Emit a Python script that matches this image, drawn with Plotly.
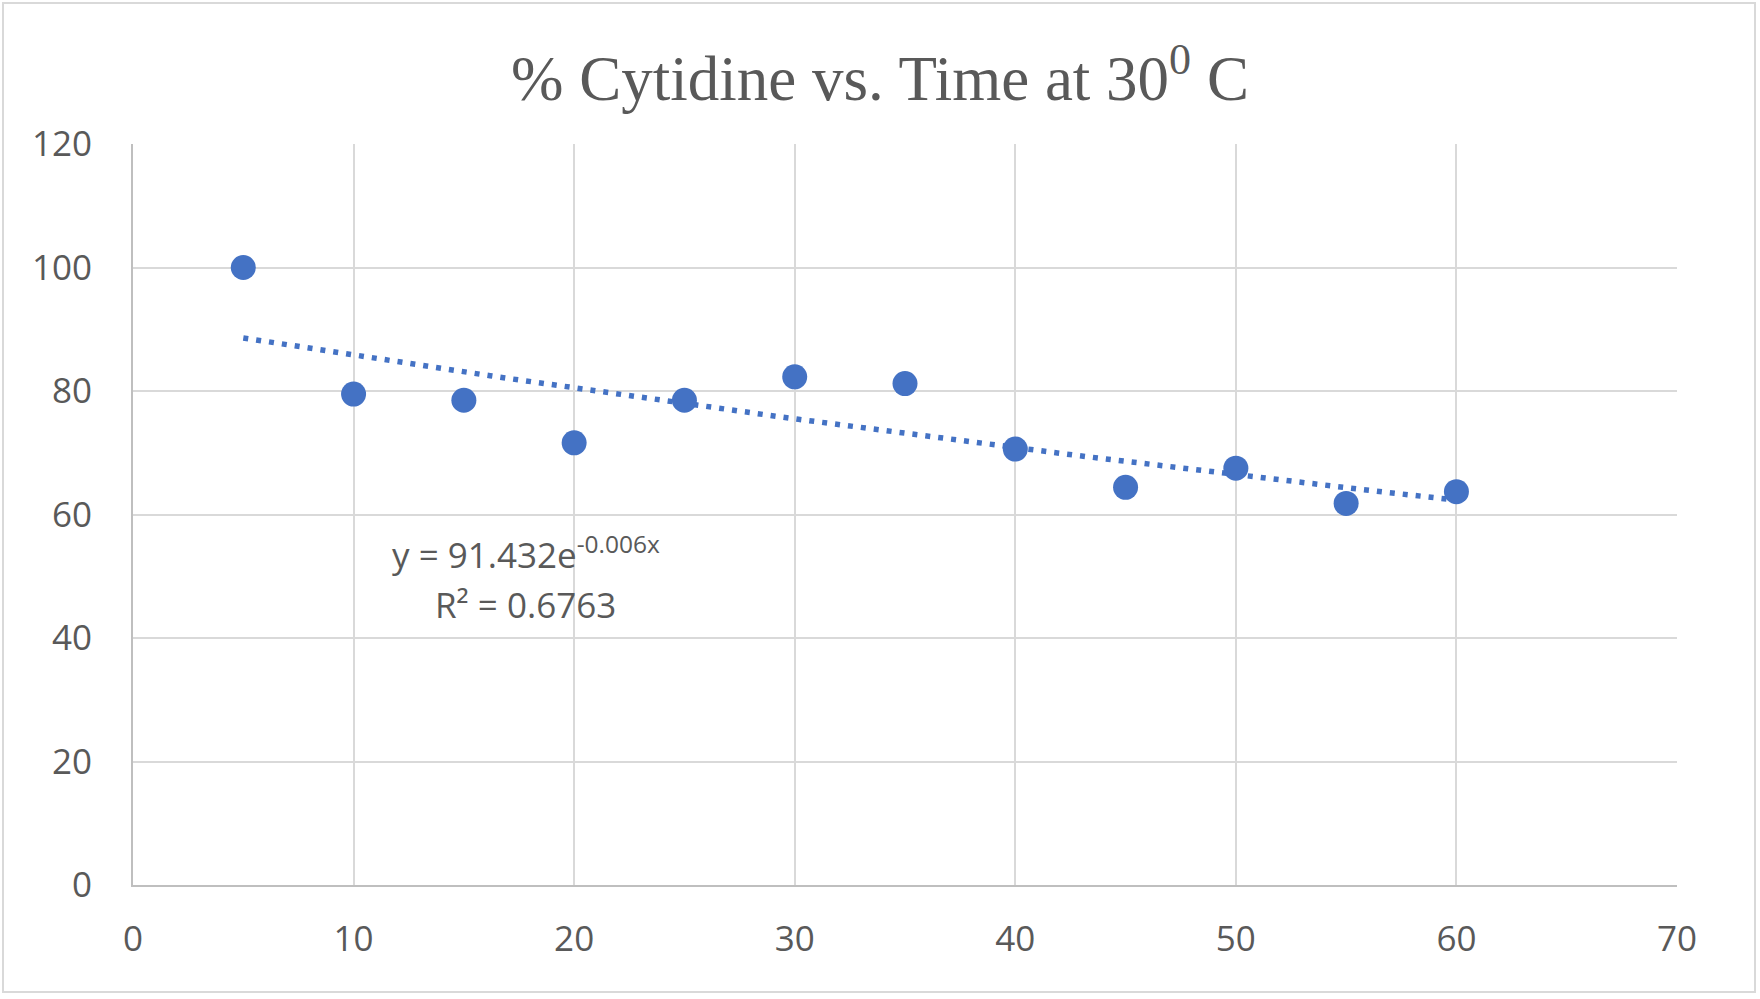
import numpy as np
import plotly.graph_objects as go

# Data
time_min = [5, 10, 15, 20, 25, 30, 35, 40, 45, 50, 55, 60]
pct_cytidine = [100.0, 79.5, 78.5, 71.6, 78.5, 82.3, 81.2, 70.6, 64.4, 67.5, 61.8, 63.7]

x_ticks = [0, 10, 20, 30, 40, 50, 60, 70]
y_ticks = [0, 20, 40, 60, 80, 100, 120]

eq_text = "y = 91.432e<sup>-0.006x</sup>"
r2_text = "R² = 0.6763"
title_text = "% Cytidine vs. Time at 30<sup style='font-size:70%'>0</sup> C"

# exponential trendline fitted to the points (as the spreadsheet does)
b, ln_a = np.polyfit(time_min, np.log(pct_cytidine), 1)
trend_x = np.linspace(min(time_min), max(time_min), 60)
trend_y = np.exp(ln_a) * np.exp(b * trend_x)

W, H = 1760, 999
L, R, T, B = 133, 83, 144, 114
pw, ph = W - L - R, H - T - B

blue = '#4472C4'
grey_txt = '#595959'

fig = go.Figure()

fig.add_trace(go.Scatter(x=trend_x, y=trend_y, mode='lines',
    line=dict(color=blue, width=5.5, dash='5px,8px'),
    hoverinfo='skip', showlegend=False))

fig.add_trace(go.Scatter(x=time_min, y=pct_cytidine, mode='markers',
    marker=dict(color=blue, size=25),
    showlegend=False))

axis_font = dict(family='Open Sans', size=35, color=grey_txt)

fig.update_layout(
    width=W, height=H,
    margin=dict(l=L, r=R, t=T, b=B, autoexpand=False),
    plot_bgcolor='white',
    paper_bgcolor='white',
    title=dict(text=title_text, x=0.5, xref='container', xanchor='center',
               y=1 - 78 / H, yanchor='middle',
               font=dict(family='Liberation Serif', size=63, color=grey_txt)),
    xaxis=dict(range=[0, 70], tickvals=x_ticks, showgrid=True,
               gridcolor='#d9d9d9', gridwidth=2,
               showline=True, linecolor='#bfbfbf', linewidth=2,
               zeroline=False, ticks='outside', ticklen=22,
               tickcolor='rgba(0,0,0,0)', tickfont=axis_font),
    yaxis=dict(range=[0, 120], tickvals=y_ticks, showgrid=True,
               gridcolor='#d9d9d9', gridwidth=2,
               showline=True, linecolor='#bfbfbf', linewidth=2,
               zeroline=False, ticks='outside', ticklen=32,
               tickcolor='rgba(0,0,0,0)', tickfont=axis_font),
)

# trendline equation labels
fig.add_annotation(x=17.8, y=53.8, xref='x', yref='y', text=eq_text,
                   showarrow=False, xanchor='center', yanchor='middle',
                   font=axis_font)
fig.add_annotation(x=17.8, y=45.5, xref='x', yref='y', text=r2_text,
                   showarrow=False, xanchor='center', yanchor='middle',
                   font=axis_font)

# chart-area border
fig.add_shape(type='rect', xref='paper', yref='paper',
              x0=(3 - L) / pw, x1=(W - 5 - L) / pw,
              y0=(H - B - (H - 7)) / ph, y1=(H - B - 3) / ph,
              line=dict(color='#d9d9d9', width=2), fillcolor='rgba(0,0,0,0)',
              layer='below')

fig.write_html("out.html", config={'displayModeBar': False},
               post_script="document.body.style.margin='0';")
